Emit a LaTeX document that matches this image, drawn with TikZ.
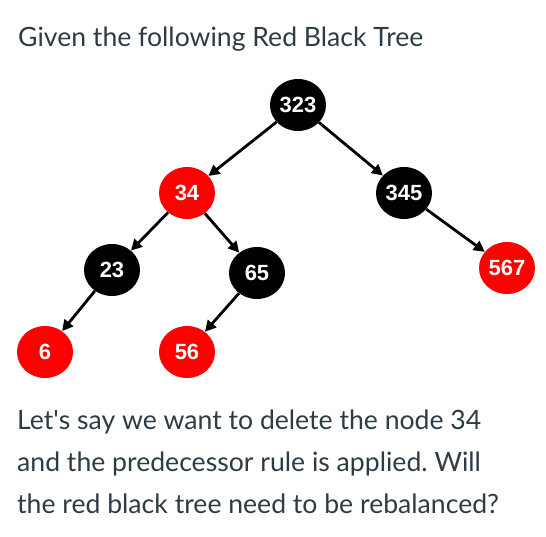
\documentclass[tikz,border=0pt]{standalone}
\usepackage{fontspec}
\setmainfont{Lato}
\newfontfamily\keyfont{Liberation Sans}
\usetikzlibrary{arrows.meta,shapes.geometric}
\definecolor{canvastext}{HTML}{2D3B45}
\definecolor{rbred}{HTML}{FF0000}
\frenchspacing
\begin{document}
\begin{tikzpicture}[
  x=1pt, y=-1pt,
  rbnode/.style={ellipse, minimum width=56pt, minimum height=52pt, inner sep=0pt,
                 text=white, font=\keyfont\bfseries\fontsize{22}{24}\selectfont},
  rednode/.style={rbnode, fill=rbred},
  blacknode/.style={rbnode, fill=black},
  edge/.style={-{Triangle[length=11pt,width=11pt]}, line width=2.8pt},
  question/.style={anchor=base west, text=canvastext, align=left,
                   font=\fontsize{26.6}{42}\selectfont, inner sep=0pt}
]
\useasboundingbox (0,0) rectangle (546,537);
\node[question] (title) at (18,47) {Given the following Red Black Tree};
\node[blacknode] (n323) at (298,105) {323};
\node[rednode] (n34) at (187,193) {34};
\node[blacknode] (n345) at (404,193) {345};
\node[blacknode] (n23) at (112,270) {23};
\node[blacknode] (n65) at (257,273) {65};
\node[rednode] (n567) at (507,268) {567};
\node[rednode] (n6) at (45,352) {6};
\node[rednode] (n56) at (187,352) {56};
\draw[edge] (n323) -- (n34);
\draw[edge] (n323) -- (n345);
\draw[edge] (n345) -- (n567);
\draw[edge] (n34) -- (n23);
\draw[edge] (n34) -- (n65);
\draw[edge] (n23) -- (n6);
\draw[edge] (n65) -- (n56);
\node[question] (ask) at (17,513) {Let\textquotesingle s say we want to delete the node 34\\
  and the predecessor rule is applied. Will\\
  the red black tree need to be rebalanced?};
\end{tikzpicture}
\end{document}
